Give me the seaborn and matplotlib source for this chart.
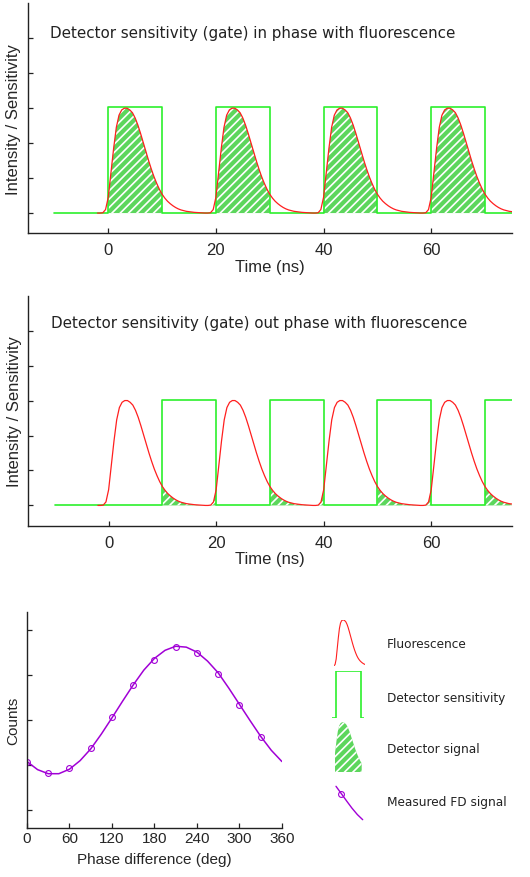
import numpy as np
import pandas as pd
import seaborn as sns
import matplotlib.pyplot as plt

sns.set_style("ticks")
plt.rcParams['font.family'] = ['Liberation Sans', 'DejaVu Sans']
plt.rcParams['hatch.linewidth'] = 1.2

# one fluorescence pulse, sampled every 0.5 ns starting 2 ns before excitation
pulse_t = np.arange(-2.0, 18.0, 0.5)
pulse_v = [0.0, 0.0, 0.01, 0.1, 0.45, 1.15, 1.85, 2.45, 2.8, 2.95,
           3.0, 3.0, 2.95, 2.87, 2.72, 2.52, 2.28, 2.02, 1.76, 1.5,
           1.26, 1.04, 0.85, 0.68, 0.54, 0.43, 0.34, 0.27, 0.21, 0.16,
           0.12, 0.09, 0.07, 0.05, 0.04, 0.03, 0.02, 0.015, 0.01, 0.005]
pulse_starts = [0, 20, 40, 60]
gate_high = 3.03

# detector gate (on / off) switching times, ns
gate_in_t = [-10, 0, 10, 20, 30, 40, 50, 60, 70, 75]
gate_in_on = [0, 1, 0, 1, 0, 1, 0, 1, 0, 0]
gate_out_t = [-10, 10, 20, 30, 40, 50, 60, 70, 75]
gate_out_on = [0, 1, 0, 1, 0, 1, 0, 1, 1]

# frequency domain signal vs phase difference
phase_meas = [0, 30, 60, 90, 120, 150, 180, 210, 240, 270, 300, 330]
counts_meas = [1.07, 0.81, 0.92, 1.36, 2.05, 2.76, 3.33, 3.62, 3.48, 3.02, 2.33, 1.62]
phase_fit = np.arange(0, 361, 15)
counts_fit = [1.07, 0.89, 0.80, 0.80, 0.90, 1.09, 1.35, 1.68, 2.04, 2.41,
              2.77, 3.10, 3.36, 3.54, 3.63, 3.61, 3.50, 3.30, 3.04, 2.70,
              2.34, 1.98, 1.63, 1.32, 1.07]

red = '#ff1f1f'
green = '#2cf02c'
fill_green = '#5cd65c'
purple = '#a100d6'
dark = '#222222'
hatch = '////'

t = np.concatenate([pulse_t + s for s in pulse_starts])
f = np.tile(pulse_v, len(pulse_starts))
keep = t <= 75
t, f = t[keep], f[keep]

fig = plt.figure(figsize=(5.3, 8.78), dpi=100)


def style_axes(ax, size, pad):
    sns.despine(ax=ax)
    for s in ['left', 'bottom']:
        ax.spines[s].set_color(dark)
        ax.spines[s].set_linewidth(1.0)
    ax.tick_params(direction='in', length=3.3, width=0.9, color=dark,
                   labelsize=size, pad=pad)


def pulse_panel(ax, gate_t, gate_on, title, title_y):
    gate_v = np.array(gate_on) * gate_high
    for a, b, on in zip(gate_t[:-1], gate_t[1:], gate_on[:-1]):
        if on:
            m = (t >= a) & (t <= b)
            ax.fill_between(t[m], 0, f[m], facecolor=fill_green,
                            edgecolor='white', hatch=hatch, linewidth=0, zorder=1)
    sns.lineplot(x=gate_t, y=gate_v, ax=ax, color=green, lw=1.2,
                 drawstyle='steps-post', estimator=None, sort=False, zorder=2)
    sns.lineplot(x=t, y=f, ax=ax, color=red, lw=0.9,
                 estimator=None, sort=False, zorder=3)
    ax.set_xlim(-15, 75)
    ax.set_ylim(-0.58, 6)
    ax.set_xticks([0, 20, 40, 60])
    ax.set_yticks(range(6))
    ax.set_yticklabels([])
    style_axes(ax, 12, 6.5)
    ax.set_xlabel('Time (ns)', fontsize=12, labelpad=1)
    ax.set_ylabel('Intensity / Sensitivity', fontsize=12)
    ax.yaxis.set_label_coords(-0.013, 0.5)
    ax.text(0.047, title_y, title, transform=ax.transAxes, fontsize=10.9,
            family='DejaVu Sans', color=dark, va='center')


ax1 = fig.add_axes([0.0519, 0.7331, 0.914, 0.262])
pulse_panel(ax1, gate_in_t, gate_in_on,
            'Detector sensitivity (gate) in phase with fluorescence', 0.875)

ax2 = fig.add_axes([0.0528, 0.4001, 0.913, 0.262])
pulse_panel(ax2, gate_out_t, gate_out_on,
            'Detector sensitivity (gate) out phase with fluorescence', 0.885)

ax3 = fig.add_axes([0.0509, 0.0561, 0.481, 0.2457])
sns.lineplot(x=phase_fit, y=counts_fit, ax=ax3, color=purple, lw=1.1,
             estimator=None, sort=False)
ax3.plot(phase_meas, counts_meas, 'o', ms=4.2, mfc='none', mec=purple, mew=0.8)
ax3.set_xlim(0, 360)
ax3.set_ylim(-0.4, 4.39)
ax3.set_xticks(range(0, 361, 60))
ax3.set_yticks(range(5))
ax3.set_yticklabels([])
style_axes(ax3, 11, 2.5)
ax3.set_xlabel('Phase difference (deg)', fontsize=11, labelpad=5)
ax3.set_ylabel('Counts', fontsize=11)
ax3.yaxis.set_label_coords(-0.025, 0.5)


def icon_axes(x0, x1, y0, y1):
    # pixel box (from top-left) -> figure fraction
    ia = fig.add_axes([x0 / 530, (878 - y1) / 878, (x1 - x0) / 530, (y1 - y0) / 878])
    ia.set_axis_off()
    return ia


ic = icon_axes(334, 365, 621, 667)
ic.plot(pulse_t, pulse_v, color=red, lw=0.8)
ic.set_xlim(-1, 13.3)
ic.set_ylim(0, 3)

ic = icon_axes(331.7, 364.3, 671.7, 719.3)
ic.plot(gate_in_t, np.array(gate_in_on) * 3, color=green, lw=1.2,
        drawstyle='steps-post', clip_on=True)
ic.set_xlim(-1.75, 11.45)
ic.set_ylim(-0.05, 3.05)

ic = icon_axes(335, 361.7, 723.3, 773.3)
pt = np.array(pulse_t)
m = (pt >= 0.5) & (pt <= 10)
ic.fill_between(pt[m], 0, np.array(pulse_v)[m], facecolor=fill_green,
                edgecolor='white', hatch=hatch, linewidth=0)
ic.set_xlim(0.5, 10)
ic.set_ylim(0, 3)

ic = icon_axes(336, 362.7, 787.3, 820.7)
ic.plot(phase_fit[19:], counts_fit[19:], color=purple, lw=1.0, clip_on=False)
ic.plot(phase_meas[10:11], counts_meas[10:11], 'o', ms=4.2, mfc='none',
        mec=purple, mew=0.8, clip_on=False)
ic.set_xlim(285, 360)
ic.set_ylim(1.07, 2.70)

labels = ['Fluorescence', 'Detector sensitivity', 'Detector signal', 'Measured FD signal']
label_y = [645, 698.3, 750, 802.7]
for lab, y in zip(labels, label_y):
    fig.text(387 / 530, (878 - y) / 878, lab, fontsize=8.7, family='DejaVu Sans',
             color=dark, va='center')

plt.savefig('out.png', dpi=100)
